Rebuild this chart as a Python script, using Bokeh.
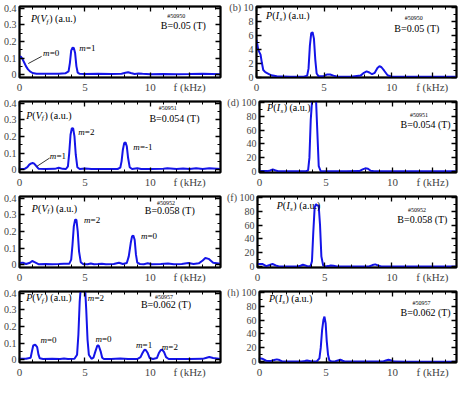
from bokeh.plotting import figure
from bokeh.models import LinearAxis, FixedTicker, Label, Range1d
from bokeh.layouts import column, row
from bokeh.embed import file_html
from bokeh.resources import INLINE

# ---------------- data (frequency kHz, power a.u.) ----------------
F_A = [0, 0.1, 0.2, 0.35, 0.5, 0.65, 0.8, 1.0, 1.3, 2.0, 3.0, 3.5, 3.75, 3.85, 3.95, 4.05, 4.15, 4.25, 4.35, 4.45,
       4.6, 5.0, 6.0, 7.0, 7.8, 8.1, 8.3, 8.5, 8.8, 9.1, 9.4, 10, 11, 12, 13, 14, 15.36]
P_A = [0.11, 0.108, 0.098, 0.075, 0.05, 0.032, 0.02, 0.01, 0.006, 0.005, 0.005, 0.008, 0.02, 0.07, 0.145, 0.162, 0.16, 0.13, 0.05, 0.012,
       0.005, 0.004, 0.005, 0.004, 0.006, 0.012, 0.015, 0.01, 0.004, 0.007, 0.005, 0.003, 0.004, 0.003, 0.004, 0.006, 0.003]

F_B = [0, 0.05, 0.12, 0.2, 0.3, 0.4, 0.5, 0.65, 0.85, 1.1, 1.5, 2.5, 3.5, 3.75, 3.85, 3.95, 4.05, 4.15, 4.25, 4.35,
       4.45, 4.6, 5.0, 5.2, 5.45, 5.7, 6.0, 7.0, 7.7, 7.95, 8.15, 8.35, 8.55, 8.75, 8.95, 9.1, 9.25, 9.45, 9.7, 10.0,
       11, 12, 13, 14.8]
P_B = [5.3, 4.8, 4.0, 3.6, 3.2, 2.0, 1.0, 0.7, 0.5, 0.25, 0.12, 0.05, 0.05, 0.2, 1.2, 4.5, 6.3, 6.4, 5.5, 2.5,
       0.5, 0.1, 0.15, 0.35, 0.35, 0.2, 0.05, 0.05, 0.2, 0.6, 0.8, 0.65, 0.4, 0.6, 1.3, 1.55, 1.4, 0.9, 0.25, 0.05,
       0.02, 0.02, 0.02, 0.02]

F_C = [0, 0.4, 0.6, 0.75, 0.9, 1.0, 1.1, 1.25, 1.45, 2.0, 2.7, 3.0, 3.3, 3.55, 3.7, 3.8, 3.9, 4.0, 4.1, 4.2,
       4.3, 4.42, 4.6, 5.0, 5.5, 6.5, 7.5, 7.7, 7.8, 7.9, 8.0, 8.1, 8.2, 8.3, 8.42, 8.6, 9.0, 9.3, 10, 11,
       11.3, 12, 12.5, 13, 13.5, 14, 14.5, 15.36]
P_C = [0.004, 0.005, 0.015, 0.03, 0.038, 0.04, 0.038, 0.025, 0.006, 0.004, 0.005, 0.012, 0.005, 0.004, 0.02, 0.1, 0.21, 0.25, 0.248, 0.2,
       0.09, 0.015, 0.004, 0.007, 0.004, 0.004, 0.004, 0.012, 0.05, 0.12, 0.16, 0.165, 0.14, 0.07, 0.015, 0.004, 0.009, 0.004, 0.004, 0.005,
       0.008, 0.004, 0.007, 0.004, 0.008, 0.004, 0.008, 0.004]

F_D = [0, 0.6, 0.8, 1.0, 1.2, 1.4, 2.5, 3.5, 3.65, 3.75, 3.85, 3.95, 4.1, 4.25, 4.35, 4.45, 4.6, 5.0, 6.5, 7.5,
       7.75, 7.95, 8.15, 8.35, 8.6, 10, 12, 14.8]
P_D = [1, 1, 2, 3.2, 2, 0.8, 0.8, 0.8, 2, 20, 75, 102, 106, 102, 55, 8, 0.8, 0.8, 0.8, 1,
       3.5, 5, 4.5, 1.5, 0.8, 0.8, 0.8, 0.8]

F_E = [0, 0.25, 0.5, 0.8, 0.97, 1.15, 1.45, 2.0, 2.5, 3.0, 3.4, 3.8, 3.95, 4.05, 4.15, 4.25, 4.35, 4.45, 4.55, 4.68,
       4.85, 5.2, 5.45, 5.7, 6.0, 6.3, 6.6, 7.2, 7.6, 7.9, 8.2, 8.35, 8.5, 8.6, 8.7, 8.8, 8.9, 9.0, 9.2, 9.5,
       9.8, 10.1, 10.8, 11.35, 11.8, 12.4, 12.9, 13.3, 13.7, 14.0, 14.2, 14.45, 14.8, 15.36]
P_E = [0.01, 0.012, 0.004, 0.012, 0.022, 0.015, 0.003, 0.004, 0.003, 0.004, 0.006, 0.005, 0.03, 0.12, 0.23, 0.27, 0.27, 0.2, 0.08, 0.015,
       0.004, 0.003, 0.007, 0.003, 0.004, 0.006, 0.003, 0.004, 0.012, 0.004, 0.01, 0.05, 0.13, 0.17, 0.175, 0.15, 0.06, 0.012, 0.004, 0.003,
       0.008, 0.003, 0.004, 0.007, 0.003, 0.004, 0.01, 0.004, 0.008, 0.025, 0.04, 0.035, 0.012, 0.006]

F_F = [0, 0.35, 0.65, 0.9, 1.12, 1.35, 1.6, 2.0, 3.0, 3.2, 3.38, 3.55, 3.75, 3.95, 4.05, 4.15, 4.25, 4.35, 4.45, 4.55,
       4.65, 4.75, 4.88, 5.05, 5.25, 5.45, 5.65, 5.9, 7.0, 8.3, 8.55, 8.76, 8.95, 9.2, 10.5, 12, 14.8]
P_F = [4, 4.2, 1, 2.5, 4, 2, 0.5, 0.4, 0.4, 1.5, 3, 2, 0.5, 1, 8, 50, 85, 90, 88, 88,
       60, 15, 2, 0.5, 1, 2, 1.5, 0.4, 0.4, 0.5, 2.5, 3.5, 2, 0.4, 0.3, 0.3, 0.3]

F_G = [0, 0.5, 0.85, 0.95, 1.05, 1.2, 1.35, 1.45, 1.55, 1.8, 2.5, 3.1, 3.4, 3.7, 4.2, 4.4, 4.5, 4.6, 4.7, 4.85,
       5.0, 5.1, 5.2, 5.3, 5.5, 5.65, 5.8, 5.95, 6.05, 6.2, 6.32, 6.45, 7.0, 7.7, 8.3, 9.0, 9.25, 9.4, 9.55, 9.65,
       9.8, 9.95, 10.2, 10.5, 10.65, 10.8, 10.9, 11.05, 11.2, 11.4, 12, 13, 14.0, 14.3, 14.5, 14.8, 15.36]
P_G = [0.006, 0.005, 0.012, 0.05, 0.085, 0.09, 0.075, 0.03, 0.008, 0.004, 0.005, 0.004, 0.007, 0.004, 0.005, 0.03, 0.15, 0.35, 0.45, 0.47,
       0.45, 0.3, 0.12, 0.03, 0.005, 0.012, 0.05, 0.085, 0.085, 0.05, 0.012, 0.004, 0.004, 0.007, 0.004, 0.004, 0.015, 0.04, 0.06, 0.058,
       0.04, 0.01, 0.004, 0.01, 0.04, 0.058, 0.06, 0.045, 0.015, 0.004, 0.004, 0.004, 0.005, 0.012, 0.016, 0.01, 0.004]

F_H = [0, 0.2, 0.5, 0.8, 1.1, 1.3, 1.5, 1.7, 2.2, 3.2, 3.4, 3.57, 3.75, 3.95, 4.3, 4.5, 4.6, 4.7, 4.8, 4.88,
       4.97, 5.05, 5.15, 5.25, 5.4, 5.7, 5.9, 6.07, 6.25, 6.45, 8.0, 9.3, 9.5, 9.69, 9.9, 10.1, 11, 12.5, 14.8]
P_H = [5, 4.5, 1.5, 1, 2.5, 3.5, 2.5, 0.5, 0.3, 0.3, 1.2, 2, 1.2, 0.3, 0.5, 5, 20, 45, 60, 65,
       55, 30, 10, 2, 0.5, 0.8, 2, 3, 1.5, 0.3, 0.3, 0.4, 2, 3, 2, 0.3, 0.2, 0.2, 0.2]

# tick values / labels
X_TICKS = [0, 5, 10]
X_LABELS = ["0", "5", "10"]
X_TITLE_POS = 13
X_TITLE = "f (kHz)"
X_MINOR = [1, 2, 3, 4, 6, 7, 8, 9, 11, 12, 13, 14, 15]
YV_TICKS = [0, 0.1, 0.2, 0.3, 0.4]
YV_LABELS = ["0", "0.1", "0.2", "0.3", "0.4"]
YV_MINOR = [0.05, 0.15, 0.25, 0.35]
YI10_TICKS = [0, 2, 4, 6, 8, 10]
YI10_LABELS = ["0", "2", "4", "6", "8", "10"]
YI10_MINOR = [1, 3, 5, 7, 9]
YI100_TICKS = [0, 20, 40, 60, 80, 100]
YI100_LABELS = ["0", "20", "40", "60", "80", "100"]
YI100_MINOR = [10, 30, 50, 70, 90]

SHOTS = ["#50950", "#50951", "#50952", "#50957"]
FIELDS = ["B=0.05 (T)", "B=0.054 (T)", "B=0.058 (T)", "B=0.062 (T)"]
LETTERS = ["(b)", "(d)", "(f)", "(h)"]

SERIF = "Liberation Serif"
BLUE = "#1414e8"
XR_L = (0, 15.36)
XR_R = (0, 14.8)
YR_V = (-0.017, 0.41)
YR_I10 = (-0.07, 10.1)
YR_I100 = (-1, 101)
ROW_H = 95


def piece(p, x, y, text, dx=0, dy=0, size="10px", italic=False):
    p.add_layout(Label(x=x, y=y, text=text, x_offset=dx, y_offset=dy,
                       text_font=SERIF, text_font_size=size,
                       text_font_style="italic" if italic else "normal",
                       text_baseline="middle", text_align="left", text_color="black"))


def p_title(p, x, y, kind):
    piece(p, x, y, "P", 0, italic=True)
    piece(p, x, y, "(", 6.1)
    if kind == "V":
        piece(p, x, y, "V", 9.7, italic=True)
        piece(p, x, y, "f", 15.7, -3, size="7px", italic=True)
        piece(p, x, y, ")", 18.4)
        piece(p, x, y, "(a.u.)", 24.2)
    else:
        piece(p, x, y, "I", 9.7, italic=True)
        piece(p, x, y, "s", 13.3, -3, size="7px", italic=True)
        piece(p, x, y, ")", 16.6)
        piece(p, x, y, "(a.u.)", 22.4)


def m_label(p, x, y, rest):
    piece(p, x, y, "m", 0, size="9px", italic=True)
    piece(p, x, y, rest, 6.6, size="9px")


def style_axis(a):
    a.axis_line_color = "black"
    a.axis_line_width = 1.5
    a.major_tick_in = 5
    a.major_tick_out = 0
    a.minor_tick_in = 3
    a.minor_tick_out = 0
    a.major_tick_line_width = 1.3
    a.minor_tick_line_width = 1


def add_axes(p, yt, ylab, yminor, letter):
    # bottom: labelled, with the axis title as an extra tick label
    bt = X_TICKS + [X_TITLE_POS]
    b = LinearAxis(ticker=FixedTicker(ticks=bt, minor_ticks=X_MINOR))
    style_axis(b)
    b.major_label_text_font = SERIF
    b.major_label_text_font_size = "11px"
    b.major_label_standoff = 3
    b.major_label_overrides = {t: l for t, l in zip(bt, X_LABELS + [X_TITLE])}
    p.add_layout(b, "below")
    # left: labelled (panel letter prepended to the top label on right panels)
    labs = list(ylab)
    if letter:
        labs[-1] = letter + " " + labs[-1]
    l = LinearAxis(ticker=FixedTicker(ticks=yt, minor_ticks=yminor))
    style_axis(l)
    l.major_label_text_font = SERIF
    l.major_label_text_font_size = "10px"
    l.major_label_standoff = 3
    l.major_label_overrides = {t: s for t, s in zip(yt, labs)}
    p.add_layout(l, "left")
    # top / right: ticks only
    for loc, ticks, minor in [("above", X_TICKS, X_MINOR), ("right", yt, yminor)]:
        a = LinearAxis(ticker=FixedTicker(ticks=ticks, minor_ticks=minor))
        style_axis(a)
        a.major_label_text_font_size = "1px"
        a.major_label_standoff = 0
        a.major_label_overrides = {t: "" for t in ticks}
        p.add_layout(a, loc)


def make_fig(left, xr, yr, yt, ylab, yminor, fx, px, letter=None):
    if left:
        w, bl, br = 224, 17, 4
    else:
        w, bl, br = 234, 32, 2
    p = figure(width=w, height=ROW_H, x_range=Range1d(*xr), y_range=Range1d(*yr),
               output_backend="svg", toolbar_location=None,
               x_axis_location=None, y_axis_location=None,
               min_border_left=bl, min_border_right=br, min_border_top=6, min_border_bottom=18)
    p.grid.visible = False
    p.outline_line_color = "black"
    p.outline_line_width = 2
    p.background_fill_color = "white"
    p.border_fill_color = "white"
    add_axes(p, yt, ylab, yminor, letter)
    p.line(fx, px, line_color=BLUE, line_width=2)
    return p


# ---- panel (a)
pa = make_fig(True, XR_L, YR_V, YV_TICKS, YV_LABELS, YV_MINOR, F_A, P_A)
p_title(pa, 0.87, 0.337, "V")
piece(pa, 11.3, 0.352, SHOTS[0], size="6px")
piece(pa, 10.8, 0.297, FIELDS[0])
m_label(pa, 1.8, 0.131, "=0")
pa.line([0.67, 1.69], [0.067, 0.11], line_color="black", line_width=0.8)
m_label(pa, 4.57, 0.16, "=1")

# ---- panel (b)
pb = make_fig(False, XR_R, YR_I10, YI10_TICKS, YI10_LABELS, YI10_MINOR, F_B, P_B, LETTERS[0])
p_title(pb, 0.71, 8.8, "I")
piece(pb, 10.97, 8.4, SHOTS[0], size="6px")
piece(pb, 10.2, 7.0, FIELDS[0])

# ---- panel (c)
pc = make_fig(True, XR_L, YR_V, YV_TICKS, YV_LABELS, YV_MINOR, F_C, P_C)
p_title(pc, 0.51, 0.328, "V")
piece(pc, 10.65, 0.372, SHOTS[1], size="6px")
piece(pc, 9.93, 0.305, FIELDS[1])
m_label(pc, 4.49, 0.227, "=2")
m_label(pc, 8.7, 0.137, "=-1")
m_label(pc, 2.32, 0.084, "=1")
pc.line([1.33, 2.3], [0.02, 0.07], line_color="black", line_width=0.8)

# ---- panel (d)
pd_ = make_fig(False, XR_R, YR_I100, YI100_TICKS, YI100_LABELS, YI100_MINOR, F_D, P_D, LETTERS[1])
p_title(pd_, 0.57, 92, "I")
piece(pd_, 11.3, 81, SHOTS[1], size="6px")
piece(pd_, 10.6, 67.6, FIELDS[1])

# ---- panel (e)
pe = make_fig(True, XR_L, YR_V, YV_TICKS, YV_LABELS, YV_MINOR, F_E, P_E)
p_title(pe, 0.94, 0.34, "V")
piece(pe, 10.5, 0.372, SHOTS[2], size="6px")
piece(pe, 9.57, 0.325, FIELDS[2])
m_label(pe, 4.93, 0.267, "=2")
m_label(pe, 9.28, 0.17, "=0")

# ---- panel (f)
pf = make_fig(False, XR_R, YR_I100, YI100_TICKS, YI100_LABELS, YI100_MINOR, F_F, P_F, LETTERS[2])
p_title(pf, 1.43, 87.8, "I")
piece(pf, 11.2, 81, SHOTS[2], size="6px")
piece(pf, 10.4, 67.6, FIELDS[2])

# ---- panel (g)
pg = make_fig(True, XR_L, YR_V, YV_TICKS, YV_LABELS, YV_MINOR, F_G, P_G)
p_title(pg, 0.51, 0.372, "V")
piece(pg, 10.36, 0.375, SHOTS[3], size="6px")
piece(pg, 9.28, 0.332, FIELDS[3])
m_label(pg, 5.22, 0.372, "=2")
m_label(pg, 1.6, 0.118, "=0")
m_label(pg, 5.8, 0.124, "=0")
m_label(pg, 8.9, 0.088, "=1")
m_label(pg, 10.87, 0.076, "=2")

# ---- panel (h)
ph = make_fig(False, XR_R, YR_I100, YI100_TICKS, YI100_LABELS, YI100_MINOR, F_H, P_H, LETTERS[3])
p_title(ph, 0.71, 90.5, "I")
piece(ph, 11.5, 83.8, SHOTS[3], size="6px")
piece(ph, 10.6, 70.3, FIELDS[3])

layout = column(row(pa, pb), row(pc, pd_), row(pe, pf), row(pg, ph))
open("out.html", "w").write(file_html(layout, INLINE))
